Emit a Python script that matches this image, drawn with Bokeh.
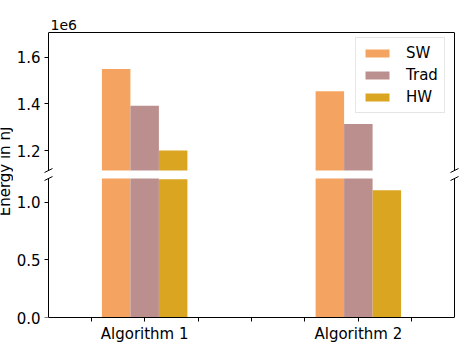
from bokeh.plotting import figure
from bokeh.models import (Range1d, LinearAxis, FixedTicker, CustomJSTickFormatter,
                          Legend, LegendItem, Label, Title)
from bokeh.layouts import row, column
from bokeh.embed import file_html
from bokeh.resources import INLINE

# ---------------- data ----------------
categories = ["Algorithm 1", "Algorithm 2"]
series_names = ["SW", "Trad", "HW"]
sw = [1550000, 1455000]
trad = [1392000, 1314000]
hw = [1200000, 1103000]
colors = ["#F4A460", "#BC8F8F", "#DAA520"]

top_ylim = (1114000, 1707500)     # visible span of the upper panel
bottom_ylim = (0, 1206000)        # visible span of the lower panel
xlim = (-0.45, 1.45)
top_ticks = [1200000, 1400000, 1600000]
bottom_ticks = [0, 500000, 1000000]
x_minor = [-0.25, 0.25, 0.5, 0.75, 1.25]

# ---------------- geometry ----------------
FONT = "DejaVu Sans"
FS = "15px"
bar_w = 0.4 / 3
positions = list(range(len(categories)))
series = [sw, trad, hw]

WIN_W, WIN_H = 474, 355
LAB_W = 13
MAIN_W = WIN_W - LAB_W
SPINE_L, SPINE_R = 48, 454   # window x of the left / right spines
SPINE_T = 32                 # window y of the top spine
EXT = 5                      # frame extends this far past the side spines
TOP_SPINE_H = 138
BOT_SPINE_H = 139
GAP_HALF = 4

xpx = (xlim[1] - xlim[0]) / (SPINE_R - SPINE_L)
x_range = Range1d(xlim[0] - EXT * xpx, xlim[1] + EXT * xpx)
top_px = (top_ylim[1] - top_ylim[0]) / TOP_SPINE_H
bot_px = (bottom_ylim[1] - bottom_ylim[0]) / BOT_SPINE_H
top_range = Range1d(top_ylim[0] - GAP_HALF * top_px, top_ylim[1])
bot_range = Range1d(bottom_ylim[0], bottom_ylim[1] + GAP_HALF * bot_px)

TOP_H = SPINE_T + TOP_SPINE_H + GAP_HALF
BOT_H = WIN_H - TOP_H
FRAME_L = SPINE_L - EXT

yfmt = CustomJSTickFormatter(code="return (tick/1e6).toFixed(1)")
blank = CustomJSTickFormatter(code="return ''")


def spine_axis(loc=None, bounds=None, tick=0.5):
    ax = LinearAxis(ticker=FixedTicker(ticks=[tick]), formatter=blank,
                    major_label_standoff=0, major_tick_out=0, major_tick_in=0,
                    major_tick_line_color=None, minor_tick_line_color=None,
                    axis_line_color="black", axis_line_width=1)
    if loc is not None:
        ax.fixed_location = loc
    if bounds is not None:
        ax.bounds = bounds
    return ax


def add_y_axes(p, ticks, bounds):
    # labels: ordinary axis at frame edge, no line / ticks
    p.add_layout(LinearAxis(ticker=FixedTicker(ticks=ticks), formatter=yfmt,
                            major_label_text_font=FONT, major_label_text_font_size=FS,
                            major_label_text_color="black", major_tick_out=0, major_tick_in=0,
                            major_tick_line_color=None, minor_tick_line_color=None,
                            axis_line_color=None, major_label_standoff=3), "left")
    # spine + ticks: fixed at the left spine, ticks pointing outward (left)
    p.add_layout(LinearAxis(ticker=FixedTicker(ticks=ticks), formatter=blank,
                            fixed_location=xlim[0], bounds=bounds,
                            major_tick_out=0, major_tick_in=4, major_label_standoff=0,
                            major_tick_line_color="black", minor_tick_line_color=None,
                            axis_line_color="black", axis_line_width=1), "right")
    # right spine
    p.add_layout(spine_axis(loc=xlim[1], bounds=bounds, tick=ticks[1]), "right")


def break_marks(p, y, ypx):
    dx = 4 * xpx
    dy = 2 * ypx
    p.segment(x0=[x - dx for x in xlim], y0=[y - dy] * 2,
              x1=[x + dx for x in xlim], y1=[y + dy] * 2,
              line_color="black", line_width=1)


def new_fig(height, y_range, **kw):
    p = figure(width=MAIN_W, height=height, x_range=x_range, y_range=y_range,
               toolbar_location=None, output_backend="svg", x_axis_location=None,
               y_axis_location=None, outline_line_color=None,
               min_border_left=FRAME_L - LAB_W, min_border_right=WIN_W - SPINE_R - EXT,
               **kw)
    p.grid.visible = False
    return p


# ---------------- label column ----------------
lab = figure(width=LAB_W, height=WIN_H, x_range=Range1d(0, LAB_W), y_range=Range1d(0, WIN_H),
             toolbar_location=None, output_backend="svg", min_border=0,
             x_axis_location=None, y_axis_location=None, outline_line_color=None)
lab.grid.visible = False
lab.add_layout(Label(x=4, y=WIN_H - 171, text="Energy in nJ", angle=90, angle_units="deg",
                     text_align="center", text_baseline="middle", text_font=FONT,
                     text_font_size=FS, text_color="black"))

# ---------------- top panel ----------------
top = new_fig(TOP_H, top_range, min_border_top=SPINE_T, min_border_bottom=0)
top.title = Title(text="1e6", align="left", offset=7, standoff=6, text_font=FONT,
                  text_font_size="14px", text_font_style="normal", text_color="black")
add_y_axes(top, top_ticks, top_ylim)
top.add_layout(spine_axis(bounds=xlim), "above")
rs = []
for i, vals in enumerate(series):
    xs = [x + (i - 1) * bar_w for x in positions]
    rs.append(top.vbar(x=xs, top=[max(v, top_ylim[0]) for v in vals], bottom=top_ylim[0],
                       width=bar_w, fill_color=colors[i], line_color=None))
LEG_L, LEG_B = 355, 113   # window px of legend box left / bottom
legend = Legend(items=[LegendItem(label=n, renderers=[r]) for n, r in zip(series_names, rs)],
                location=(LEG_L - FRAME_L, TOP_H - LEG_B),
                padding=6, spacing=4, margin=0,
                label_height=18, glyph_height=10, glyph_width=30, label_standoff=14,
                label_text_font=FONT, label_text_font_size=FS, label_text_color="black",
                border_line_color="#cccccc", border_line_width=1,
                background_fill_color="white", background_fill_alpha=0.9)
top.add_layout(legend)
break_marks(top, top_ylim[0], top_px)

# ---------------- bottom panel ----------------
bot = new_fig(BOT_H, bot_range, min_border_top=0,
              min_border_bottom=WIN_H - (TOP_H + GAP_HALF + BOT_SPINE_H))
add_y_axes(bot, bottom_ticks, bottom_ylim)
xa = LinearAxis(ticker=FixedTicker(ticks=positions, minor_ticks=x_minor), bounds=xlim,
                major_label_overrides={i: c for i, c in zip(positions, categories)},
                major_label_text_font=FONT, major_label_text_font_size=FS,
                major_label_text_color="black", major_tick_out=4, major_tick_in=0,
                minor_tick_out=4, minor_tick_in=0, minor_tick_line_color="black",
                major_tick_line_color="black", axis_line_color="black",
                major_label_standoff=3)
bot.add_layout(xa, "below")
for i, vals in enumerate(series):
    xs = [x + (i - 1) * bar_w for x in positions]
    bot.vbar(x=xs, top=[min(v, bottom_ylim[1]) for v in vals], bottom=0, width=bar_w,
             fill_color=colors[i], line_color=None)
break_marks(bot, bottom_ylim[1], bot_px)

layout = row(lab, column(top, bot, spacing=0), spacing=0)
open("out.html", "w").write(file_html(layout, INLINE))
